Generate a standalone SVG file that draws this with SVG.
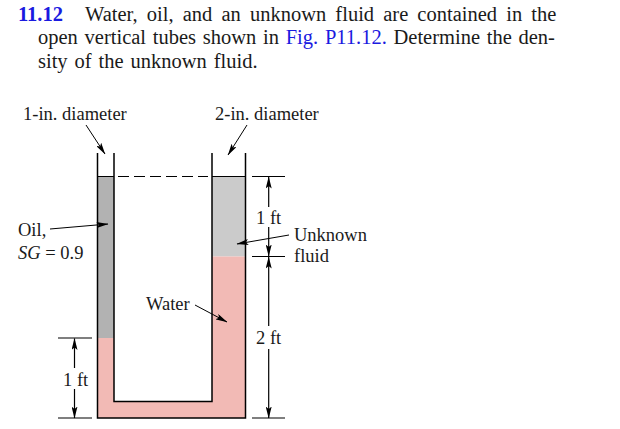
<svg xmlns="http://www.w3.org/2000/svg" width="620" height="429" viewBox="0 0 620 429">
<style>
text{font-family:"Liberation Serif","Times New Roman",serif;font-size:18.5px;fill:#1a1a1a}
.h{font-size:20.5px}
.blue{fill:#1a1ae0}
.wall{fill:none;stroke:#000;stroke-width:1.5}
.thin{fill:none;stroke:#000;stroke-width:1.2}
.lead{fill:none;stroke:#000;stroke-width:1;marker-end:url(#a)}
.dim{fill:none;stroke:#000;stroke-width:1.2;marker-end:url(#a)}
</style>
<defs><marker id="a" viewBox="0 0 12 6" refX="11.5" refY="3" markerWidth="12" markerHeight="6" markerUnits="userSpaceOnUse" orient="auto"><path d="M0 0L12 3L0 6L2.5 3Z" fill="#000"/></marker></defs>
<rect width="620" height="429" fill="#fff"/>
<g id="problem-text">
<text class="h blue" x="18" y="21" style="font-weight:bold">11.12</text>
<text class="h" x="85" y="21" word-spacing="4">Water, oil, and an unknown fluid are contained in the</text>
<text class="h" x="38" y="44" word-spacing="1.6">open vertical tubes shown in <tspan class="blue">Fig. P11.12.</tspan> Determine the den-</text>
<text class="h" x="38" y="67.500" word-spacing="1.8">sity of the unknown fluid.</text>
</g>
<g id="fluids">
<rect id="oil" x="97.500" y="176.500" width="16.500" height="161.500" fill="#b2b2b2"/>
<rect id="unknown" x="212" y="176.500" width="33.500" height="80" fill="#cbcbcb"/>
<path id="water" d="M97.500 338H114V401.500H212V256.500H245.500V418H97.500Z" fill="#f2bab5"/>
</g>
<g id="tubes">
<path class="wall" d="M97.500 153V418H245.500V153M114 153V401.500H212V153"/>
<path class="thin" d="M97.500 176.500H114M212 176.500H245.500"/>
</g>
<g id="connectors">
<path class="thin" d="M118 176.500H208" stroke-dasharray="11 5"/>
<path class="thin" d="M252 176.500H285M252 256.500H285M252 418H285M58 338H92M58 418H92"/>
<path class="dim" d="M268.700 207V177"/>
<path class="dim" d="M268.700 227V256"/>
<path class="dim" d="M268.700 326V257"/>
<path class="dim" d="M268.700 349V418"/>
<path class="dim" d="M74.500 368V338.500"/>
<path class="dim" d="M74.500 389V418"/>
<path class="lead" d="M86 125L105 154"/>
<path class="lead" d="M247 125L228 155"/>
<path class="lead" d="M50 229L108 224"/>
<path class="lead" d="M289 235L237 244"/>
<path class="lead" d="M195 305L227 322"/>
</g>
<g id="labels">
<text x="23" y="119.500">1-in. diameter</text>
<text x="215" y="119.500">2-in. diameter</text>
<text x="18" y="235.500">Oil,</text>
<text x="18" y="258.500"><tspan font-style="italic">SG</tspan> = 0.9</text>
<text x="146" y="309.500">Water</text>
<text x="256" y="223.500">1 ft</text>
<text x="256" y="343.500">2 ft</text>
<text x="63" y="385.500">1 ft</text>
<text x="294" y="241">Unknown</text>
<text x="294" y="262">fluid</text>
</g>
</svg>
